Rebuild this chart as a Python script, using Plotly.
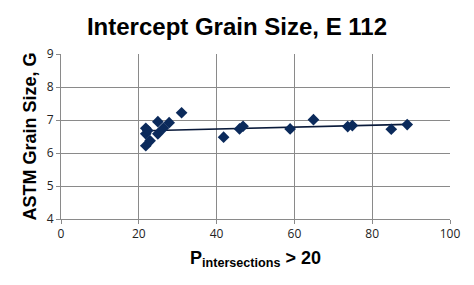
import numpy as np
import plotly.graph_objects as go

p_intersections = [21.8, 21.8, 22.3, 21.8, 22.9, 24.9, 24.9, 26.3, 27.8, 31.0, 41.8, 45.9, 46.8, 58.9, 64.9, 73.7, 74.9, 84.9, 89.0]
grain_size_g = [6.75, 6.58, 6.68, 6.22, 6.37, 6.95, 6.58, 6.75, 6.92, 7.22, 6.48, 6.73, 6.81, 6.73, 7.01, 6.80, 6.83, 6.72, 6.86]

x_ticks = [0, 20, 40, 60, 80, 100]
y_ticks = [4, 5, 6, 7, 8, 9]

slope, intercept = np.polyfit(p_intersections, grain_size_g, 1)
x_fit = [min(p_intersections), max(p_intersections)]
y_fit = [slope * v + intercept for v in x_fit]

navy = "#0B2A5B"
grid = "#8a8a8a"

fig = go.Figure()
fig.add_trace(go.Scatter(x=x_fit, y=y_fit, mode="lines",
                         line=dict(color="#0A1A3A", width=1.6), showlegend=False, hoverinfo="skip"))
fig.add_trace(go.Scatter(x=p_intersections, y=grain_size_g, mode="markers",
                         marker=dict(symbol="diamond", size=9, color=navy), showlegend=False))

fig.update_layout(
    width=474, height=285,
    margin=dict(l=61, r=24, t=54, b=66),
    paper_bgcolor="white", plot_bgcolor="white",
    title=dict(text="<b>Intercept Grain Size, E 112</b>", x=0.5, xanchor="center",
               y=0.905, yanchor="middle",
               font=dict(family="Liberation Sans, Arial", size=24, color="black")),
)
fig.update_xaxes(range=[0, 100], tickvals=x_ticks, showgrid=True, gridcolor=grid, gridwidth=1,
                 showline=True, linecolor=grid, linewidth=1, mirror=False,
                 ticks="outside", ticklen=4, tickcolor=grid, zeroline=False,
                 tickfont=dict(family="Open Sans", size=12, color="#222"),
                 title=dict(text="<b>P<sub>intersections</sub> > 20</b>", standoff=9,
                            font=dict(family="Liberation Sans, Arial", size=18, color="black")))
fig.update_yaxes(range=[4, 9], tickvals=y_ticks, showgrid=True, gridcolor=grid, gridwidth=1,
                 showline=True, linecolor=grid, linewidth=1,
                 ticks="outside", ticklen=4, tickcolor=grid, zeroline=False,
                 tickfont=dict(family="Open Sans", size=12, color="#222"),
                 title=dict(text="<b>ASTM Grain Size, G</b>", standoff=5,
                            font=dict(family="Liberation Sans, Arial", size=18, color="black")))

fig.write_html("out.html")
